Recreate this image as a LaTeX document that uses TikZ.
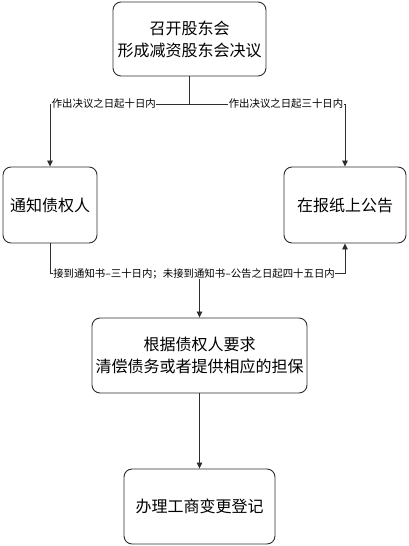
\documentclass[tikz,border=0pt]{standalone}
\usepackage{fontspec}
\setmainfont{Noto Sans CJK SC}
\usetikzlibrary{arrows.meta,positioning,calc}
\definecolor{lineGray}{RGB}{45,45,45}

\begin{document}
\begin{tikzpicture}[x=1pt,y=-1pt,
    box/.style={draw=lineGray,line width=0.9pt,rounded corners=8pt,
                align=center,inner sep=0pt,font=\fontsize{16}{22}\selectfont},
    link/.style={draw=lineGray,line width=0.8pt},
    arr/.style={link,-{Triangle[length=6pt,width=5.5pt]}},
    tag/.style={fill=white,inner sep=0.6pt,font=\fontsize{10.4}{12}\selectfont}]
  \useasboundingbox (0,0) rectangle (408,546);
  % Kaesten
  \node[box,minimum width=153pt,minimum height=74pt] (meeting) at (189.5,39)
    {召开股东会\\形成减资股东会决议};
  \node[box,minimum width=94pt,minimum height=76pt] (notify) at (50,205)
    {通知债权人};
  \node[box,minimum width=122pt,minimum height=76pt] (announce) at (345,205)
    {在报纸上公告};
  \node[box,minimum width=215pt,minimum height=75pt] (repay) at (199.5,355.5)
    {根据债权人要求\\清偿债务或者提供相应的担保};
  \node[box,minimum width=151pt,minimum height=75pt] (register) at (199.5,506.5)
    {办理工商变更登记};

  % Verzweigung oben
  \coordinate (split) at (meeting.south |- 0,104);
  \draw[link] (meeting.south) -- (split);
  \draw[arr] (split) -| (notify.north);
  \draw[arr] (split) -| (announce.north);
  \node[tag,anchor=west] (tenday) at ($(notify.north |- split)+(1,0)$)
    {作出决议之日起十日内};
  \node[tag,anchor=east] (thirtyday) at ($(announce.north |- split)+(-1,0)$)
    {作出决议之日起三十日内};

  % Zusammenfuehrung unten
  \coordinate (join) at ($(notify.south)+(0,30)$);
  \draw[link] (notify.south) -- (join);
  \draw[arr] (join) -| (announce.south);
  \draw[arr] (repay.north |- join) -- (repay.north);
  \node[tag,anchor=west] (deadline) at ($(join)+(2.5,0)$)
    {接到通知书–三十日内；未接到通知书–公告之日起四十五日内};

  % Abschluss
  \draw[arr] (repay) -- (register);
\end{tikzpicture}
\end{document}
